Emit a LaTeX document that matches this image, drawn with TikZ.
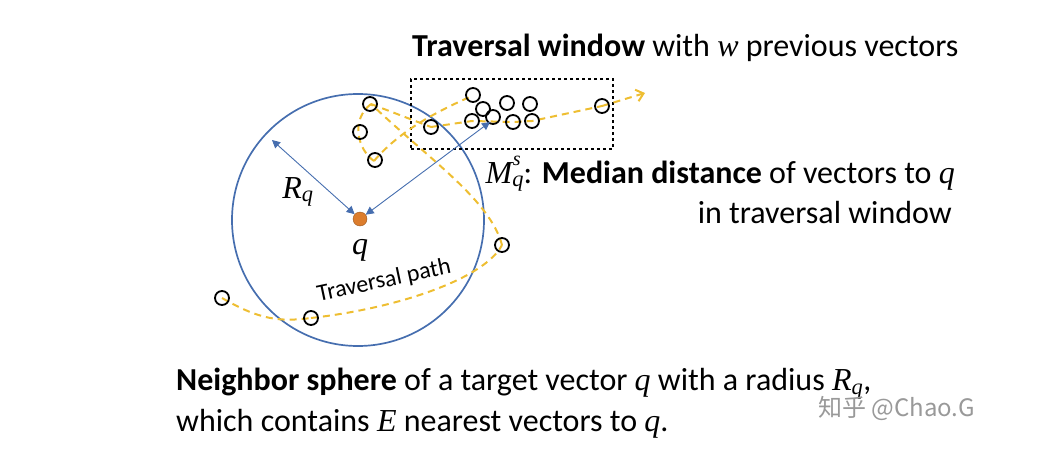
\documentclass[tikz,border=0pt]{standalone}
\usepackage{fontspec}
\setmainfont{Carlito}
\newfontfamily\cjk{Noto Sans CJK SC}
\newfontfamily\mif{Liberation Serif}
\newcommand{\mv}[1]{{\mif\itshape #1}}
\newcommand{\mvs}[2]{{\mif\itshape #1\textsubscript{#2}}}
\usetikzlibrary{arrows.meta}
\definecolor{pathc}{RGB}{238,190,50}
\definecolor{circc}{RGB}{70,110,175}
\definecolor{qc}{RGB}{220,125,45}
\begin{document}
\begin{tikzpicture}[x=1pt,y=-1pt,
  vec/.style={circle,draw=black,line width=1.8pt,minimum size=14pt,inner sep=0pt},
  trav/.style={draw=pathc,line width=2pt,dash pattern=on 7pt off 5pt},
  radar/.style={draw=circc,line width=0.9pt,{Triangle[width=8pt,length=8pt]}-{Triangle[width=8pt,length=8pt]}},
  txt/.style={font=\fontsize{32}{37}\selectfont,inner sep=0pt}]
\useasboundingbox (0,0) rectangle (1058,452);
\draw[circc,line width=1.7pt] (358,220) circle (126);
\node[draw,dashed,line width=1.3pt,minimum width=202pt,minimum height=70pt,inner sep=0pt] (win) at (512,114) {};
\coordinate (end) at (645,93);
\draw[trav] (222,298) .. controls (260,320) and (280,322) .. (311,318);
\draw[trav] (311,318) .. controls (400,308) and (485,278) .. (502,245);
\draw[trav] (502,245) .. controls (490,200) and (430,160) .. (371,104);
\draw[trav] (371,104) .. controls (350,120) and (358,150) .. (374,161);
\draw[trav] (374,161) .. controls (400,130) and (440,110) .. (472,96);
\draw[trav] (371,104) -- (431,127);
\draw[trav] (431,127) -- (472,121) -- (513,122) -- (532,121) -- (602,106);
\draw[trav,-{Straight Barb[length=7pt,width=12pt]}] (602,106) -- (end);
\node[vec] (a) at (222,298) {};
\node[vec] (b) at (311,318) {};
\node[vec] (c) at (502,245) {};
\node[vec] (d) at (370,104) {};
\node[vec] (e) at (360,132) {};
\node[vec] (f) at (375,160) {};
\node[vec] (g) at (431,127) {};
\node[vec] (h) at (473,95) {};
\node[vec] (i) at (483,109) {};
\node[vec] (j) at (493,117) {};
\node[vec] (k) at (507,103) {};
\node[vec] (l) at (530,104) {};
\node[vec] (m) at (472,121) {};
\node[vec] (n) at (513,122) {};
\node[vec] (o) at (532,121) {};
\node[vec] (p) at (602,106) {};
\node[circle,fill=qc,draw=qc!70!black,minimum size=14pt,inner sep=0pt] (q) at (360,219) {};
\coordinate (rA) at (272,140);
\coordinate (rB) at (490,122);
\draw[radar] (rA) -- (q);
\draw[radar] (rB) -- (q);
\node[txt] (Rq) at (298,192) {\mvs{R}{q}};
\node[txt] (ql) at (360,250) {\mv{q}};
\node[font=\fontsize{24}{28}\selectfont,rotate=12,inner sep=0pt] (tp) at (384,281) {Traversal path};
\node[txt,anchor=west] (t1) at (412,48) {\textbf{Traversal window} with \mv{w} previous vectors};
\node[txt,anchor=east] (t2) at (955,174) {{\mif\itshape M\textsubscript{q}}\kern-0.35em\raisebox{0.55em}{\mif\itshape\fontsize{20}{20}\selectfont s}\kern0.1em: \textbf{Median distance} of vectors to \mv{q}};
\node[txt,anchor=east] (t3) at (952,213) {in traversal window};
\node[txt,anchor=west] (t4) at (176,384) {\textbf{Neighbor sphere} of a target vector \mv{q} with a radius \mvs{R}{q},};
\node[txt,anchor=west] (t5) at (176,424) {which contains \mv{E} nearest vectors to \mv{q}.};
\node[font=\fontsize{24}{28}\selectfont,text=white!60!black,anchor=west,inner sep=0pt] (wm) at (818,408) {\cjk 知乎 @Chao.G};
\end{tikzpicture}
\end{document}
